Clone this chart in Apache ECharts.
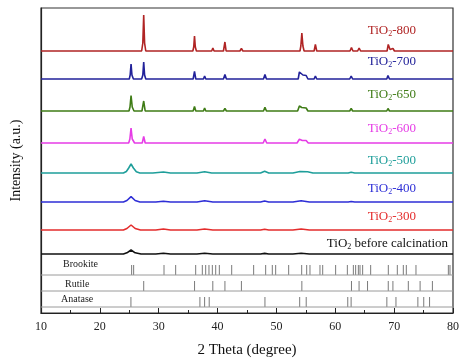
<!DOCTYPE html>
<html><head><meta charset="utf-8">
<script src="https://cdn.jsdelivr.net/npm/echarts@6/dist/echarts.min.js"></script>
<style>html,body{margin:0;padding:0;background:#fff}#c{width:474px;height:364px}</style>
</head><body><div id="c"></div>
<script>
// ---- data: 2θ (degree), intensity (a.u., relative to each trace's baseline) ----
const xTicks = [10, 20, 30, 40, 50, 60, 70, 80];
const sampleNames = ['TiO2-800','TiO2-700','TiO2-650','TiO2-600','TiO2-500','TiO2-400','TiO2-300','TiO2 before calcination'];
const s800 = [[10,0],[25.0,0],[25.3,1.5],[25.6,0],[27.1,0],[27.3,8],[27.45,36],[27.6,8],[27.8,0],[30.6,0],[30.8,1.5],[31.1,0],[35.8,0],[35.95,4],[36.08,15],[36.22,4],[36.4,0],[39.0,0],[39.2,3],[39.4,0],[41.0,0],[41.25,9],[41.45,0],[43.8,0],[44.05,2.5],[44.3,0],[54.0,0],[54.15,5],[54.32,18],[54.5,5],[54.7,0],[56.4,0],[56.62,6.5],[56.85,0],[62.5,0],[62.75,3.5],[63.0,0],[63.8,0],[64.05,3],[64.3,0],[68.8,0],[69.0,6.5],[69.3,1.5],[69.8,2.5],[70.05,0],[72.2,0],[72.4,1],[72.6,0],[76.3,0],[76.5,1],[76.7,0],[80,0]];
const s700 = [[10,0],[25.0,0],[25.15,4],[25.3,15],[25.45,4],[25.7,0],[27.1,0],[27.3,4],[27.45,17],[27.6,4],[27.8,0],[30.6,0],[30.8,1.5],[31.0,0],[35.85,0],[36.08,7.5],[36.3,0],[37.6,0],[37.8,3],[38.0,0],[38.4,0],[38.6,2],[38.8,0],[41.0,0],[41.25,4.5],[41.5,0],[43.8,0],[44.05,1.5],[44.3,0],[47.8,0],[48.05,4.5],[48.3,0],[53.7,0],[53.9,7],[54.2,9],[54.5,4],[55.05,3.5],[55.35,0],[56.4,0],[56.62,3],[56.85,0],[62.45,0],[62.7,3],[62.95,0],[63.8,0],[64.05,1.5],[64.3,0],[68.75,0],[68.95,3.5],[69.2,0],[70.1,0],[70.3,1.5],[70.5,0],[74.8,0],[75.03,1.5],[75.25,0],[80,0]];
const s650 = [[10,0],[24.95,0],[25.12,4],[25.3,15.5],[25.5,4],[25.8,0],[27.15,0],[27.45,10],[27.7,0],[30.6,0],[30.8,1],[31.0,0],[35.85,0],[36.08,4.5],[36.3,0],[37.6,0],[37.8,3],[38.0,0],[38.4,0],[38.6,1.5],[38.8,0],[41.0,0],[41.25,2.5],[41.5,0],[47.8,0],[48.05,3.7],[48.3,0],[53.6,0],[53.9,5],[54.3,3.5],[55.05,3],[55.35,0],[56.4,0],[56.62,1.5],[56.85,0],[62.45,0],[62.7,2.5],[62.95,0],[68.75,0],[68.95,2.5],[69.2,0],[74.8,0],[75.03,1.5],[75.25,0],[80,0]];
const s600 = [[10,0],[24.9,0],[25.1,4],[25.3,15],[25.5,4],[25.9,0],[27.2,0],[27.45,6.5],[27.7,0],[30.6,0],[30.8,0.8],[31.0,0],[35.9,0],[36.1,1.5],[36.3,0],[37.5,0],[37.8,2],[38.1,0],[41.0,0],[41.25,1],[41.5,0],[47.75,0],[48.05,4],[48.35,0],[53.5,0],[53.9,3.7],[54.4,2.5],[55.05,2.5],[55.4,0],[62.4,0],[62.7,2],[63.0,0],[68.7,0],[68.9,1.5],[69.2,0],[74.8,0],[75.03,1],[75.3,0],[80,0]];
const s500 = [[10,0],[24.0,0],[24.5,1.5],[24.9,5],[25.3,9],[25.7,5],[26.2,1.2],[26.8,0],[29,0],[30.8,1],[32,0],[36.5,0],[37.8,1.3],[39,0],[47.3,0],[48.0,1.7],[48.7,0],[52.8,0],[54.0,1.5],[55.3,1.2],[56.2,0],[62.2,0],[62.7,0.8],[63.3,0],[80,0]];
const s400 = [[10,0],[24.0,0],[24.6,1.5],[25.3,5.3],[26.0,1.5],[26.8,0],[29.5,0],[30.8,0.8],[32,0],[36.5,0],[37.8,1.3],[39.2,0],[47.3,0],[48.0,1],[48.7,0],[52.8,0],[54.2,1.2],[55.6,0],[62.2,0],[62.7,0.5],[63.3,0],[80,0]];
const s300 = [[10,0],[24.0,0],[24.6,1.5],[25.3,5],[26.0,1.5],[26.9,0],[29.5,0],[30.8,1],[32,0],[36.5,0],[37.8,1],[39.2,0],[47.3,0],[48.0,0.7],[48.7,0],[52.8,0],[54.2,1],[55.6,0],[80,0]];
const sBefore = [[10,0],[24.0,0],[24.6,1.2],[25.3,4],[26.0,1.2],[27.0,0],[29.5,0],[30.8,0.8],[32,0],[36.5,0],[37.8,0.8],[39.2,0],[47.3,0],[48.0,0.6],[48.7,0],[52.8,0],[54.2,0.8],[55.6,0],[80,0]];
// reference patterns (peak positions, 2θ)
const refNames = ['Brookite','Rutile','Anatase'];
const brookite = [25.40,25.74,30.90,32.88,36.28,37.41,37.98,38.54,39.11,39.68,40.30,42.40,46.13,48.17,49.30,49.87,52.08,54.29,55.14,55.70,57.40,57.86,60.06,62.05,63.07,63.46,63.92,64.20,64.65,66.01,69.01,70.54,71.56,72.07,73.71,79.21,79.49];
const rutile = [27.45,36.09,39.19,41.25,44.05,54.32,62.75,64.04,65.48,69.0,69.79,72.41,74.41,76.5];
const anatase = [25.28,37.0,37.8,38.58,48.05,53.95,55.06,62.12,62.69,68.76,70.31,74.03,75.03,76.02];

// ---- layout / style (not data) ----
const traces = [s800, s700, s650, s600, s500, s400, s300, sBefore];
const offsets = [262, 234, 202, 170, 140, 111, 83, 59];
const colors = ['#b02424','#22229a','#3f7c16','#e63ce6','#1e9e9a','#2e2ed6','#e42c2c','#111111'];
const refData = [brookite, rutile, anatase];
const refBase = [38, 22, 6];
const refTickH = 10;
const FONT = 'Liberation Serif';

const chart = echarts.init(document.getElementById('c'), null, {renderer:'canvas'});
const series = [];
traces.forEach((t, i) => {
  series.push({
    type: 'line', data: t.map(p => [p[0], p[1] + offsets[i]]),
    showSymbol: false, symbol: 'none', silent: true,
    lineStyle: {color: colors[i], width: 1.6}, z: 3
  });
});
refData.forEach((arr, i) => {
  series.push({
    type: 'line', data: [[10, refBase[i]], [80, refBase[i]]],
    showSymbol: false, symbol:'none', silent: true,
    lineStyle: {color: '#9a9a9a', width: 1}
  });
  series.push({
    type: 'custom', silent: true,
    data: arr.map(v => [v]),
    renderItem: (params, api) => {
      const a = api.coord([api.value(0), refBase[i]]);
      const b = api.coord([api.value(0), refBase[i] + refTickH]);
      return {type:'line', shape:{x1:a[0], y1:a[1], x2:b[0], y2:b[1]}, style:{stroke:'#7a7a7a', lineWidth:1}};
    }
  });
});

const labelY = [31.7, 63, 96, 130, 161.7, 190, 218, 245];
const graphics = [];
sampleNames.forEach((n, i) => {
  const last = i === 7;
  const txt = last ? 'TiO{s|2} before calcination' : 'TiO{s|2}' + n.slice(4);
  graphics.push({
    type:'text', right: last ? 474-448 : 474-416, top: labelY[i] - 8,
    style: {text: txt, fill: colors[i], font: '13px ' + FONT,
      rich: {s: {fontSize: 8, fontFamily: FONT, fill: colors[i], padding:[7,0,0,0]}}}
  });
});
const refLabelPos = [[63, 259], [65, 279], [61, 294]];
refNames.forEach((n, i) => {
  graphics.push({type:'text', left: refLabelPos[i][0], top: refLabelPos[i][1],
    style:{text:n, fill:'#222', font:'10px ' + FONT}});
});

chart.setOption({
  animation: false,
  grid: {left: 41, right: 21, top: 8, bottom: 51, show: true, borderColor: '#333', borderWidth: 1.2},
  xAxis: {
    type: 'value', min: 10, max: 80, interval: 10,
    name: '2 Theta (degree)', nameLocation: 'middle', nameGap: 30,
    nameTextStyle: {fontFamily: FONT, fontSize: 15, color: '#111'},
    axisLine: {lineStyle: {color: '#222', width: 1.2}},
    axisTick: {inside: true, length: 5, lineStyle:{color:'#222'}},
    minorTick: {show: true, splitNumber: 2, length: 3, lineStyle:{color:'#222'}},
    axisLabel: {fontFamily: FONT, fontSize: 12, color: '#222', margin: 8,
      formatter: v => xTicks.includes(v) ? String(v) : ''},
    splitLine: {show: false}
  },
  yAxis: {
    type: 'value', min: 0, max: 305,
    name: 'Intensity (a.u.)', nameLocation: 'middle', nameGap: 18,
    nameTextStyle: {fontFamily: FONT, fontSize: 14, color: '#111'},
    axisLine: {show: true, lineStyle: {color: '#222', width: 1.2}},
    axisTick: {show: false}, axisLabel: {show: false}, splitLine: {show: false}
  },
  series: series,
  graphic: graphics
});
</script></body></html>
